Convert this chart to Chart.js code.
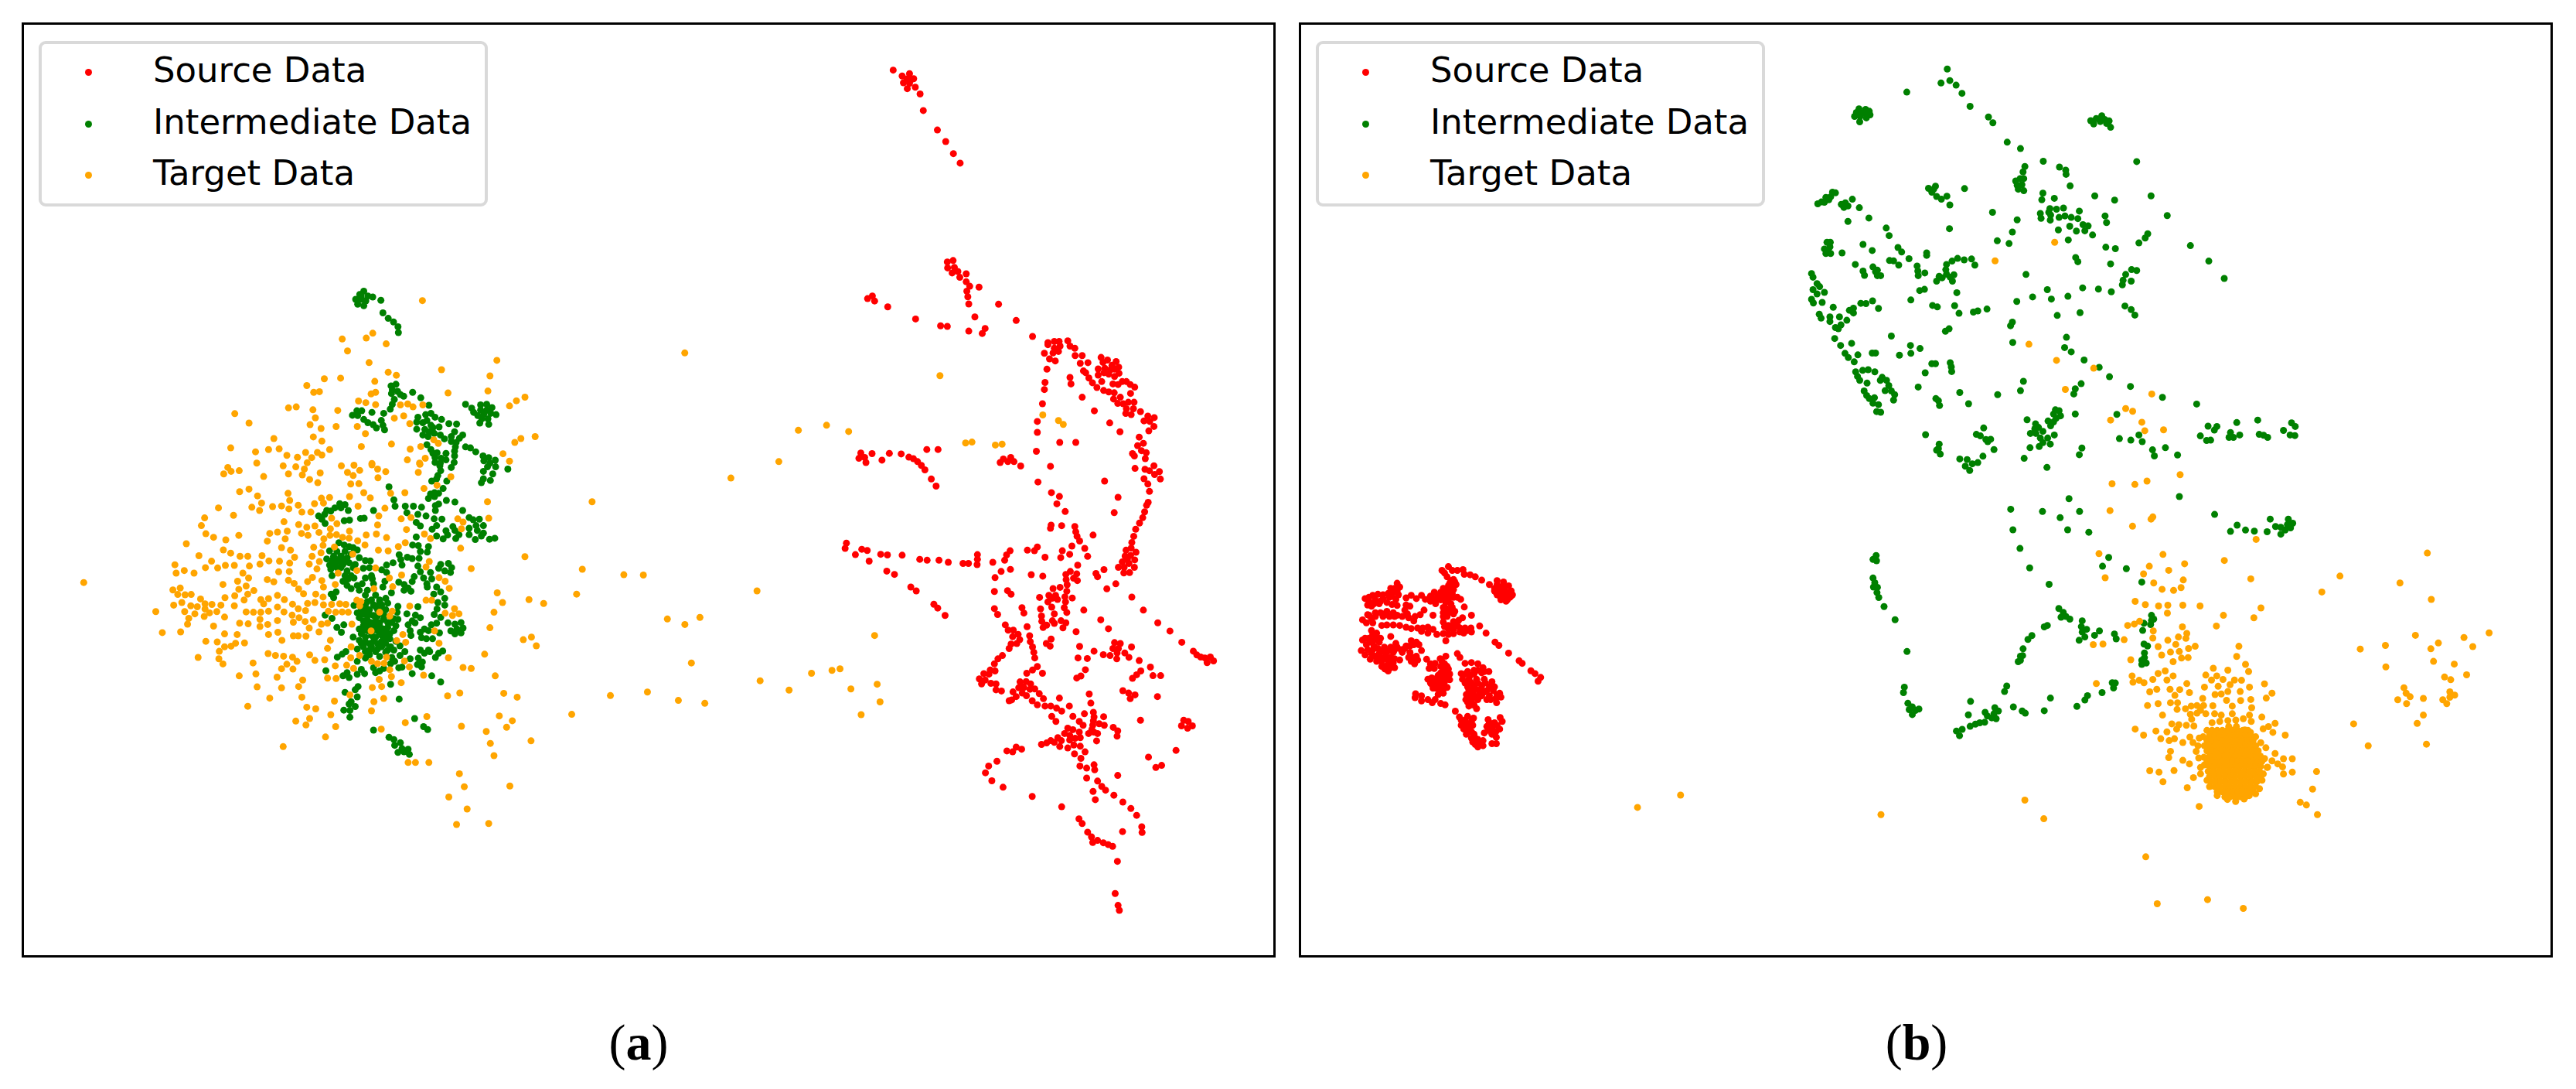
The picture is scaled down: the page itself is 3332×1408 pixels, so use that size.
<!DOCTYPE html>
<html>
<head>
<meta charset="utf-8">
<script src="https://cdn.jsdelivr.net/npm/chart.js@4/dist/chart.umd.js"></script>
<style>
html, body { margin: 0; padding: 0; background: #fff; }
body { width: 3332px; height: 1408px; position: relative; overflow: hidden; }
.frame { position: absolute; border: 3px solid #000; box-sizing: content-box; }
.frame canvas { display: block; }
.legend { position: absolute; top: 53px; width: 573px; height: 206px; border: 4px solid #d9d9d9; border-radius: 9px; background: #fff;
    font-family: "DejaVu Sans"; font-size: 45px; color: #000; }
.legend div { position: absolute; left: 144px; white-space: nowrap; line-height: 50px; }
.legend i { position: absolute; width: 9px; height: 9px; border-radius: 50%; left: 56px; }
.cap { position: absolute; top: 1308px; font-family: "Liberation Serif"; font-size: 66px; line-height: 80px; transform: translateX(-50%); color: #000; }
</style>
</head>
<body>
<script>
const seriesNames = ['Source Data', 'Intermediate Data', 'Target Data']
const seriesColors = ['#ff0000', '#008000', '#ffa500']
const captions = ['a', 'b']

const crop1 = [0, 0, 1.889, 2.376]
const crop2 = [100, 600, 1.889, 2.376]
const crop3 = [1000, 50, 2.4, 2.6]
const crop4 = [1000, 640, 2.4, 2.6]
const crop5 = [1700, 650, 3, 3]
const crop6 = [2250, 50, 2.09, 2.53]
const crop7 = [2350, 650, 1.742, 2.8]
const crop8 = [2820, 840, 3, 3]
const crop0 = [0, 0, 1, 1]

// panel (a)
const aSourceUpper = [[377,95],[405,115],[428,107],[441,124],[420,125],[432,128],[409,138],[428,140],[446,153],[421,158],[461,176],[471,232],[515,298],[541,337],[565,378],[586,410],[546,745],[564,740],[547,765],[568,763],[579,777],[561,782],[585,797],[605,785],[605,812],[616,827],[645,830],[607,844],[610,863],[613,887],[706,888],[632,931],[761,943],[664,970],[655,987],[613,979],[525,961],[546,963],[447,938],[360,897],[297,869],[312,860],[319,877],[812,997],[860,1018],[860,1025],[880,1014],[895,1014],[898,1030],[880,1037],[893,1048],[876,1053],[849,1054],[865,1073],[883,1080],[922,1012],[929,1030],[944,1037],[945,1062],[967,1062],[961,1088],[985,1086],[857,1108],[971,1114],[978,1120],[988,1138],[999,1154],[1013,1170],[929,1136],[932,1158],[851,1153],[849,1177],[1026,1068],[1046,1077],[1073,1082],[1032,1085],[1060,1095],[1081,1101],[1017,1107],[1038,1105],[1055,1110],[1068,1108],[1082,1122],[1017,1128],[1035,1120],[1050,1125],[1068,1133],[1028,1150],[1063,1158],[1079,1160],[1092,1150],[1105,1150],[1117,1160],[1131,1169],[1034,1180],[1050,1185],[1067,1188],[1118,1190],[967,1203],[1086,1203],[1065,1209],[1078,1224],[1095,1225],[1111,1220],[1129,1220],[843,1225],[1005,1249],[1105,1242],[1127,1242],[1149,1252],[1103,1258],[1120,1262],[1172,1267],[1192,1272],[1160,1283],[1178,1285],[827,1285],[1053,1290],[1191,1302],[1175,1317],[827,1322],[1085,1320],[1145,1338],[1158,1359],[1140,1367],[1152,1384],[1167,1391],[1124,1394],[1130,1402],[1164,1411],[824,1386],[897,1356],[947,1356],[482,1380],[517,1380],[276,1392],[311,1394],[365,1393],[402,1395],[270,1410],[288,1407],[292,1424],[342,1416],[426,1406],[440,1411],[453,1421],[465,1434],[476,1449],[496,1480],[511,1504],[711,1424],[721,1412],[735,1421],[744,1407],[754,1421],[775,1436],[868,1437],[1132,1444],[1163,1447],[1177,1452],[1191,1435],[1208,1455],[1193,1465],[1211,1480],[1160,1479],[1172,1497],[829,1490],[1037,1487],[1177,1522],[871,1526],[896,1539],[1079,1542]]
const aSourceLower = [[888,30],[1173,25],[1168,35],[914,56],[1162,57],[1067,60],[1156,77],[1146,95],[870,102],[868,113],[903,104],[944,107],[947,125],[1134,116],[951,140],[1128,140],[959,156],[1001,136],[1122,161],[231,163],[227,181],[279,184],[296,188],[259,202],[338,201],[359,203],[405,204],[302,224],[460,218],[483,221],[520,221],[549,228],[595,232],[612,232],[640,202],[640,218],[639,236],[688,228],[742,189],[731,203],[725,221],[714,259],[743,252],[796,187],[818,189],[827,176],[851,211],[905,189],[935,173],[975,181],[928,201],[900,212],[984,208],[1120,180],[1104,187],[1135,194],[1101,207],[1118,205],[1092,227],[1131,220],[1108,218],[1113,232],[1080,245],[1098,245],[1130,245],[1097,264],[1115,263],[953,238],[1035,253],[1010,266],[1015,277],[930,259],[916,269],[950,267],[940,282],[952,290],[917,287],[357,258],[381,269],[695,280],[808,270],[844,275],[920,304],[898,313],[1072,301],[1044,318],[432,312],[449,325],[693,327],[734,324],[745,336],[876,317],[919,326],[863,340],[884,340],[834,347],[913,345],[936,349],[873,350],[890,354],[860,362],[915,362],[1122,346],[504,370],[516,383],[693,385],[779,382],[785,400],[872,380],[837,386],[911,382],[919,398],[972,390],[1158,390],[539,408],[703,405],[880,403],[840,410],[841,428],[874,426],[880,435],[901,426],[916,433],[907,450],[856,441],[845,449],[1025,423],[1203,433],[727,440],[795,446],[1049,453],[736,458],[752,458],[948,463],[1241,461],[767,472],[750,480],[803,477],[772,490],[870,488],[745,505],[763,503],[805,497],[855,503],[867,512],[1068,500],[1086,503],[1278,499],[739,520],[812,515],[959,513],[1063,520],[1080,520],[1121,515],[1004,529],[1314,529],[718,544],[816,533],[1033,541],[1054,544],[1076,535],[1100,535],[1325,542],[704,555],[819,552],[954,552],[983,554],[1075,555],[1113,550],[1337,549],[1350,552],[1367,549],[1377,562],[1357,568],[1145,561],[693,572],[827,581],[1180,583],[812,593],[680,593],[695,596],[977,592],[1150,596],[660,605],[676,607],[794,604],[843,604],[1137,609],[1188,612],[1212,612],[963,613],[950,620],[1124,621],[646,623],[664,627],[653,640],[682,638],[698,640],[773,633],[792,632],[806,640],[778,648],[769,653],[785,652],[698,660],[715,664],[751,667],[780,671],[804,658],[819,657],[833,673],[1094,663],[1112,671],[989,674],[1132,677],[1202,683],[761,683],[793,680],[846,690],[896,688],[1117,690],[739,697],[747,694],[811,697],[994,705],[827,711],[851,715],[869,715],[887,722],[927,715],[903,732],[1002,736],[872,750],[938,750],[974,741],[1004,752],[1034,751],[885,767],[958,767],[1002,765],[970,780],[1149,763],[1284,763],[1298,767],[1277,782],[1311,782],[1296,790],[1000,780],[1020,775],[1036,780],[1064,787],[922,790],[938,795],[1078,799],[912,808],[958,803],[997,795],[987,808],[1015,808],[1003,803],[928,814],[945,824],[961,822],[891,822],[1076,817],[928,830],[869,832],[856,840],[840,845],[880,838],[902,832],[1012,833],[941,847],[961,851],[897,852],[922,857],[761,854],[778,861],[732,867],[750,870],[943,877],[976,870],[963,892],[1260,865],[1174,888],[701,902],[1004,914],[1215,916],[1197,923],[675,918],[960,918],[981,925],[1006,931],[665,941],[1078,950],[981,959],[685,968],[1015,969],[720,990],[1028,987],[1040,1000],[1001,1004],[811,1021],[1066,1017],[1008,1032],[1094,1040],[903,1056],[1119,1062],[1137,1085],[957,1097],[967,1113],[1153,1124],[1154,1143],[1093,1140],[984,1142],[996,1158],[1000,1177],[1015,1170],[1033,1178],[1048,1184],[1062,1190],[1077,1241],[1070,1350],[1079,1390],[1083,1407]]

const aMiddleUpper = [[885,890],[875,900],[895,905],[907,908],[865,915],[880,915],[890,920],[870,930],[885,935],[878,905],[927,918],[932,957],[945,974],[958,985],[969,1000],[970,1018],[952,1183],[964,1178],[955,1195],[968,1200],[953,1207],[975,1210],[983,1215],[960,1225],[955,1240],[950,1255],[1005,1203],[1025,1220],[1045,1243],[868,1260],[880,1260],[857,1274],[870,1275],[905,1265],[934,1268],[885,1287],[895,1297],[908,1303],[916,1313],[928,1290],[932,1305],[936,1319],[1135,1240],[1150,1252],[1155,1265],[1172,1242],[1187,1240],[1200,1250],[1172,1258],[1187,1258],[1165,1275],[1180,1270],[1197,1268],[1210,1272],[1175,1285],[1190,1285],[1170,1298],[1192,1302],[1037,1272],[1050,1268],[1060,1280],[1018,1280],[1040,1290],[1076,1287],[1015,1295],[1030,1297],[1050,1305],[1094,1300],[1113,1301],[1015,1317],[1035,1318],[1055,1312],[1070,1310],[1030,1335],[1045,1325],[1043,1340],[1058,1330],[1073,1335],[1108,1325],[1128,1335],[1083,1347],[1100,1340],[1120,1345],[1100,1355],[1112,1358],[1040,1365],[1050,1380],[1055,1392],[1065,1390],[1110,1372],[1108,1385],[1135,1372],[1147,1375],[1160,1387],[1178,1400],[1192,1405],[1208,1413],[1180,1415],[1195,1422],[1060,1405],[1075,1407],[1087,1392],[1087,1412],[1108,1400],[1107,1420],[1060,1420],[1073,1422]]
const aMiddleLower = [[883,5],[911,10],[990,22],[1020,8],[1050,15],[1000,8],[885,20],[878,35],[1013,30],[985,57],[1007,50],[990,45],[863,52],[900,52],[875,45],[891,75],[870,88],[860,92],[880,90],[855,106],[870,100],[758,70],[770,110],[773,130],[899,112],[920,117],[880,123],[872,128],[798,130],[818,130],[838,133],[802,150],[829,155],[872,143],[939,143],[849,160],[869,169],[888,170],[955,165],[980,170],[965,172],[825,180],[835,191],[875,190],[864,201],[915,193],[920,205],[898,206],[972,190],[990,190],[955,198],[975,205],[990,213],[875,222],[891,231],[902,219],[922,230],[930,218],[955,218],[970,233],[985,222],[1005,232],[1018,229],[825,225],[816,250],[830,252],[855,255],[835,270],[852,272],[637,122],[650,125],[625,135],[640,135],[605,143],[615,145],[585,160],[600,155],[658,143],[593,170],[601,183],[648,175],[661,173],[688,168],[697,167],[720,143],[635,243],[648,250],[660,255],[670,258],[680,265],[612,268],[630,270],[650,270],[665,278],[622,285],[640,285],[605,293],[618,297],[635,295],[655,290],[685,289],[700,298],[712,299],[612,312],[625,310],[640,305],[660,305],[675,310],[695,322],[710,320],[615,325],[618,345],[640,320],[655,330],[670,320],[650,345],[665,345],[645,362],[658,355],[672,352],[700,352],[715,345],[740,327],[752,335],[752,312],[768,305],[783,280],[787,295],[790,312],[803,288],[815,292],[832,291],[829,315],[835,333],[843,352],[863,355],[820,348],[815,363],[860,335],[880,322],[885,310],[904,307],[912,320],[895,330],[909,335],[655,375],[665,385],[680,375],[692,370],[717,355],[720,370],[748,362],[743,380],[782,365],[795,372],[805,383],[795,390],[812,393],[851,370],[852,380],[875,380],[885,395],[868,402],[895,415],[628,395],[616,402],[622,413],[685,390],[705,390],[700,405],[725,405],[764,398],[715,420],[735,420],[750,415],[700,435],[720,435],[740,435],[755,430],[672,437],[690,450],[710,450],[730,450],[750,450],[780,440],[778,458],[680,460],[700,465],[720,468],[745,465],[770,478],[685,475],[705,482],[725,485],[745,480],[765,490],[780,480],[695,500],[715,500],[735,500],[755,505],[775,500],[685,510],[705,515],[730,515],[750,518],[770,515],[690,525],[670,535],[715,530],[740,530],[760,540],[685,545],[700,550],[720,548],[740,548],[775,548],[695,565],[715,565],[740,565],[762,565],[680,572],[785,562],[700,580],[725,580],[750,582],[770,575],[797,580],[785,592],[765,598],[735,595],[710,590],[772,610],[762,617],[829,441],[878,428],[876,448],[895,436],[802,463],[823,467],[835,475],[869,465],[885,474],[815,485],[805,497],[822,491],[862,497],[875,492],[903,491],[920,495],[935,490],[810,515],[845,510],[855,515],[835,520],[812,530],[882,522],[910,516],[925,510],[940,507],[920,525],[935,522],[838,537],[850,540],[865,540],[835,575],[855,575],[845,585],[890,578],[880,585],[872,598],[858,580],[830,600],[810,602],[840,612],[828,620],[838,627],[601,467],[618,477],[647,497],[630,505],[641,520],[652,580],[643,588],[631,597],[680,610],[700,600],[720,630],[735,640],[745,632],[603,639],[645,655],[655,645],[660,660],[680,650],[698,648],[690,635],[725,645],[782,630],[790,628],[815,648],[863,655],[885,674],[762,681],[682,688],[675,698],[650,706],[680,720],[665,735],[675,750],[660,742],[647,761],[662,762],[662,783],[783,727],[821,787],[843,812],[853,821],[720,823],[758,845],[770,852],[786,862],[772,870],[790,880],[805,882],[780,892],[795,890],[808,898],[690,465],[710,465],[730,470],[760,470],[695,485],[715,490],[735,490],[755,490],[705,500],[725,505],[745,510],[695,515],[715,520],[735,520],[760,525],[700,535],[725,535],[750,535],[710,555],[730,555],[750,555],[690,555],[710,575],[730,572],[755,575],[735,425],[725,440],[705,425],[700,450],[740,455],[625,300],[645,310],[650,300],[630,320],[650,360],[640,285]]

const aTargetUpper = [[1029,919],[832,1038],[891,1035],[907,1020],[940,1053],[845,1075],[898,1111],[1212,1104],[1076,1133],[945,1141],[965,1150],[1195,1152],[828,1159],[788,1161],[912,1169],[745,1182],[1190,1199],[762,1203],[776,1201],[1092,1205],[903,1208],[914,1203],[1281,1218],[1260,1229],[1243,1245],[872,1230],[890,1235],[914,1241],[700,1251],[719,1248],[760,1257],[821,1259],[975,1242],[993,1239],[1006,1248],[1030,1242],[568,1269],[766,1282],[960,1283],[983,1276],[603,1298],[753,1303],[817,1309],[869,1309],[998,1300],[780,1315],[889,1331],[1306,1340],[1271,1346],[1256,1358],[664,1346],[761,1341],[782,1354],[953,1363],[1057,1350],[1068,1361],[879,1371],[1025,1371],[558,1375],[651,1380],[677,1378],[619,1387],[801,1380],[742,1389],[771,1389],[782,1397],[999,1379],[696,1398],[722,1404],[757,1405],[1227,1393],[992,1412],[1036,1407],[1243,1416],[622,1422],[746,1421],[905,1423],[1022,1422]]
const aTargetLower = [[352,30],[362,10],[370,22],[390,20],[450,38],[511,30],[545,33],[550,15],[498,5],[529,8],[589,27],[563,47],[583,57],[641,5],[672,3],[656,25],[670,35],[686,19],[716,2],[730,15],[750,23],[731,42],[830,25],[834,0],[664,61],[684,60],[910,39],[391,85],[414,77],[435,98],[510,90],[696,88],[712,104],[844,75],[762,90],[797,88],[876,65],[445,120],[421,133],[472,131],[494,129],[514,112],[535,127],[512,138],[440,143],[544,148],[566,148],[575,122],[592,105],[612,103],[597,120],[661,100],[682,130],[748,136],[339,135],[376,158],[305,166],[297,190],[500,178],[733,160],[617,167],[630,184],[536,187],[556,195],[576,191],[730,188],[788,169],[812,165],[1000,116],[1257,116],[1003,167],[927,169],[940,179],[936,200],[614,200],[586,211],[661,207],[801,202],[308,215],[327,226],[389,220],[357,234],[465,214],[484,210],[508,207],[543,214],[559,220],[613,220],[629,218],[702,219],[727,216],[752,227],[845,216],[860,230],[503,231],[459,238],[598,231],[644,226],[660,229],[681,237],[699,250],[260,246],[798,243],[781,255],[934,260],[494,258],[516,266],[573,257],[596,251],[624,256],[669,278],[732,266],[756,268],[351,265],[369,275],[591,274],[291,283],[392,285],[411,285],[446,283],[526,288],[569,285],[1092,286],[322,300],[489,300],[463,299],[587,301],[441,309],[514,306],[562,309],[415,315],[356,313],[378,313],[307,320],[337,321],[232,311],[857,301],[849,318],[581,324],[725,321],[960,323],[255,329],[235,337],[279,337],[399,337],[487,333],[513,332],[633,337],[679,329],[1233,325],[1335,342],[1383,343],[789,343],[881,351],[896,362],[413,352],[386,362],[459,357],[475,364],[511,359],[558,363],[570,350],[593,360],[759,352],[350,372],[407,377],[525,369],[626,372],[767,379],[906,384],[8,366],[389,387],[426,391],[536,386],[597,380],[721,385],[227,389],[245,383],[411,402],[239,403],[257,404],[272,403],[548,401],[578,402],[596,411],[1024,398],[355,413],[379,407],[295,417],[402,420],[443,419],[462,416],[484,406],[501,419],[1102,419],[1219,402],[249,428],[323,434],[306,432],[521,433],[576,428],[1037,428],[1138,431],[271,438],[287,441],[229,436],[345,436],[378,438],[450,432],[484,442],[558,431],[597,435],[617,434],[637,432],[652,434],[689,425],[679,421],[686,438],[849,421],[863,421],[809,439],[919,447],[306,448],[535,447],[553,453],[185,456],[256,456],[281,463],[304,471],[317,460],[335,456],[407,457],[425,458],[443,458],[462,455],[500,457],[609,455],[627,458],[643,457],[658,458],[735,458],[766,455],[1016,458],[896,461],[914,468],[930,463],[266,477],[354,473],[520,467],[537,475],[572,481],[441,480],[1442,479],[1522,474],[760,470],[263,495],[391,492],[412,494],[460,496],[484,484],[523,489],[552,487],[592,495],[607,492],[441,502],[667,495],[1485,496],[327,501],[562,507],[1006,506],[201,521],[246,519],[354,525],[385,527],[462,527],[485,520],[586,519],[714,516],[870,516],[523,531],[535,531],[554,532],[792,527],[1108,535],[1088,543],[308,548],[336,550],[495,545],[614,545],[777,546],[799,551],[881,554],[403,553],[381,554],[370,563],[354,565],[1120,562],[665,565],[607,570],[341,579],[461,586],[479,592],[499,594],[563,590],[521,597],[993,588],[289,598],[340,602],[532,610],[576,607],[600,605],[686,592],[664,599],[752,597],[904,599],[796,609],[424,615],[350,618],[1501,615],[507,619],[715,610],[730,617],[746,616],[626,624],[654,622],[808,627],[940,629],[960,632],[494,633],[522,634],[671,632],[760,636],[431,649],[390,655],[483,659],[1019,655],[843,653],[764,657],[546,668],[607,662],[628,663],[734,666],[788,676],[434,689],[494,692],[536,688],[717,691],[740,688],[544,721],[465,724],[662,714],[902,717],[932,708],[1040,709],[1073,721],[1302,716],[1393,705],[745,725],[721,735],[624,733],[411,749],[1469,731],[1534,740],[556,752],[578,757],[715,763],[615,775],[1207,774],[851,781],[1029,779],[1061,794],[529,795],[563,787],[798,800],[554,807],[627,812],[936,811],[1047,814],[739,820],[997,827],[602,844],[1107,856],[1007,864],[498,874],[1016,902],[805,923],[823,923],[856,923],[931,958],[943,998],[1055,996],[905,1030],[950,1067],[1003,1112],[924,1115]]
const aTargetFar = [[20,1421],[81,1315],[169,1298],[238,1319],[523,1130],[844,1263],[893,1282],[908,1295],[603,1358],[623,1355],[696,1365],[717,1362]]
const aTargetFar2 = [[319,476],[122,604],[186,594],[211,589],[52,661],[245,657],[327,641],[336,701],[277,744]]
const aTargetGap = [[886,455],[946,618],[980,765],[984,882]]

// panel (b)
const bSource = [[485,265],[510,250],[495,275],[525,265],[545,265],[567,262],[572,280],[595,282],[615,290],[640,303],[670,320],[700,305],[725,310],[745,325],[690,335],[710,330],[730,330],[755,345],[695,350],[715,350],[735,350],[760,360],[710,365],[730,370],[750,370],[735,385],[720,340],[745,350],[505,290],[530,300],[515,315],[540,320],[490,335],[510,340],[530,340],[455,350],[480,350],[500,355],[525,355],[470,365],[545,370],[558,378],[450,375],[480,380],[510,375],[405,362],[365,362],[385,375],[345,372],[420,378],[440,385],[460,395],[500,390],[520,395],[572,408],[600,440],[310,315],[285,335],[320,330],[295,350],[315,360],[255,360],[235,358],[215,362],[185,375],[200,385],[225,380],[245,385],[270,390],[305,378],[290,398],[310,402],[345,400],[360,405],[210,405],[340,420],[350,435],[415,420],[400,438],[380,445],[450,440],[490,430],[510,430],[530,435],[490,410],[525,410],[355,450],[375,462],[330,445],[295,430],[270,425],[245,430],[195,438],[225,445],[210,455],[175,458],[190,470],[215,470],[255,445],[280,445],[310,440],[250,480],[270,478],[295,478],[320,480],[345,487],[365,492],[390,490],[410,490],[430,487],[450,495],[405,503],[430,510],[465,515],[490,512],[510,515],[530,512],[500,540],[490,467],[530,465],[550,460],[565,450],[495,485],[520,490],[545,480],[575,490],[598,490],[570,510],[600,505],[632,482],[657,510],[692,545],[707,558],[745,588],[786,618],[798,628],[832,657],[848,668],[870,683],[860,698],[210,500],[225,520],[245,530],[285,523],[185,530],[175,537],[205,545],[240,545],[190,555],[305,550],[365,540],[385,545],[360,560],[395,555],[170,578],[185,595],[210,590],[260,565],[285,565],[310,565],[340,570],[330,585],[240,590],[265,590],[295,585],[360,585],[405,578],[205,612],[230,620],[260,610],[285,605],[320,615],[355,605],[385,600],[365,620],[378,630],[390,615],[250,640],[275,630],[300,645],[275,658],[262,650],[425,612],[440,630],[458,628],[435,648],[455,648],[500,600],[478,610],[495,630],[510,650],[490,655],[515,670],[470,675],[445,685],[490,685],[515,692],[440,705],[465,705],[490,715],[505,722],[450,725],[475,735],[490,745],[382,747],[380,762],[405,755],[405,775],[430,770],[447,782],[458,770],[480,785],[497,790],[537,815],[553,838],[545,590],[555,605],[575,628],[600,625],[625,630],[645,645],[668,660],[585,660],[560,668],[610,670],[640,665],[565,690],[590,690],[620,690],[650,690],[680,700],[585,720],[610,715],[640,715],[670,720],[690,720],[650,740],[710,745],[580,750],[605,745],[630,750],[670,755],[695,765],[715,760],[578,770],[600,775],[625,770],[660,770],[698,782],[590,795],[620,805],[605,790],[585,835],[608,842],[560,850],[580,865],[605,870],[560,870],[570,885],[590,890],[580,905],[610,905],[600,920],[625,925],[605,935],[645,930],[645,950],[625,955],[665,848],[690,860],[712,840],[720,855],[660,875],[680,880],[710,885],[650,900],[680,905],[697,917],[680,942],[697,942],[700,320],[705,340],[725,360],[745,360],[700,360],[715,380],[740,380],[755,365],[690,345],[485,620],[505,640],[480,640],[495,660],[480,665],[500,675],[455,690],[470,690],[455,710],[475,715],[460,725],[430,690],[445,710],[495,700],[480,700],[490,730],[470,750],[575,670],[595,675],[625,655],[650,660],[610,655],[575,705],[600,705],[625,705],[655,705],[600,730],[620,730],[640,730],[660,735],[685,735],[595,760],[615,760],[640,755],[675,770],[700,750],[585,780],[610,790],[590,735],[600,855],[575,850],[590,875],[570,870],[600,895],[615,920],[630,940],[615,945],[670,860],[680,900],[665,890],[700,870],[695,895],[300,335],[290,365],[310,345],[200,370],[220,395],[240,395],[195,400],[255,375],[280,370],[275,355],[225,430],[260,435],[300,445],[200,440],[200,530],[215,540],[230,535],[220,560],[195,575],[215,575],[235,570],[250,580],[275,580],[300,575],[325,575],[225,600],[245,605],[270,605],[300,610],[250,620],[275,615],[295,625],[265,640],[285,645],[370,605],[345,560],[375,555],[230,510],[215,515],[480,365],[500,370],[530,370],[495,345],[510,360],[520,330],[510,325],[535,310],[520,305],[490,360],[465,380],[440,365],[520,420],[505,415],[535,425],[490,445],[505,445],[540,470],[510,480],[530,480],[555,490],[585,500],[555,505],[530,495],[510,495]]

const bMiddleUpper = [[562,89],[545,135],[569,127],[586,142],[602,169],[452,165],[624,212],[674,247],[686,266],[725,330],[761,351],[322,220],[340,222],[350,228],[315,232],[330,235],[345,238],[310,245],[325,245],[352,240],[342,250],[324,263],[952,259],[967,252],[982,243],[990,255],[1002,260],[960,270],[978,262],[995,268],[1006,281],[823,393],[1077,394],[867,412],[884,422],[885,436],[773,410],[768,428],[748,458],[760,450],[770,450],[752,472],[765,470],[755,485],[770,490],[896,474],[511,482],[530,475],[520,495],[525,485],[533,509],[546,518],[561,508],[569,537],[609,483],[210,533],[220,527],[232,512],[240,520],[250,495],[258,497],[245,510],[228,528],[274,535],[285,530],[281,545],[292,540],[304,518],[323,546],[349,580],[292,591],[822,498],[819,520],[853,515],[963,507],[1017,521],[1116,507],[685,561],[841,549],[859,551],[878,547],[921,557],[838,561],[815,565],[843,570],[1160,572],[817,581],[842,587],[866,578],[882,573],[899,578],[917,582],[991,573],[995,595],[752,586],[895,607],[931,602],[945,606],[864,619],[913,623],[936,622],[957,636],[739,626],[396,613],[404,638],[568,615],[1107,632],[1100,646],[1083,662],[698,655],[730,664],[891,652],[235,660],[244,660],[333,667],[1223,671],[993,676],[1019,681],[243,675],[228,682],[358,687],[245,697],[276,695],[232,697],[238,685],[428,677],[438,692],[506,695],[506,703],[458,714],[590,713],[608,718],[628,715],[575,722],[405,720],[416,721],[430,735],[560,733],[637,735],[911,710],[917,724],[1273,722],[312,733],[1006,731],[480,738],[360,741],[333,755],[482,755],[501,761],[558,750],[367,757],[372,752],[483,770],[580,767],[776,766],[1063,750],[1077,753],[193,763],[197,775],[337,769],[372,770],[381,770],[560,765],[540,772],[548,777],[570,775],[1047,766],[1315,779],[533,788],[576,788],[1040,785],[1062,788],[1038,800],[208,796],[215,806],[487,819],[500,815],[834,816],[930,810],[973,814],[1008,823],[197,816],[228,825],[208,830],[588,826],[794,840],[890,838],[845,847],[193,848],[198,860],[222,858],[463,850],[359,853],[327,861],[341,862],[751,855],[522,868],[535,873],[582,869],[375,878],[252,874],[1045,870],[1062,882],[670,880],[296,884],[307,877],[307,893],[633,890],[645,886],[594,894],[923,892],[861,901],[1072,900],[214,897],[219,910],[243,906],[269,906],[243,921],[289,917],[739,923],[734,935],[258,941],[273,932],[266,945],[567,945],[557,953],[410,969],[886,973],[256,977],[302,993],[272,1000],[740,990],[462,1000],[488,1010],[881,1007],[899,1021],[284,1026],[319,1031],[358,1025],[367,1025],[432,1032],[463,1026],[293,1040],[934,1048],[309,1054],[520,1060],[530,1060],[570,1057],[573,1071],[975,1072],[332,1082],[347,1080],[365,1087],[313,1087],[574,1086],[502,1090],[1003,1103],[318,1102],[385,1105],[324,1115],[380,1115],[397,1115],[344,1124],[769,1118],[926,1126],[403,1132],[483,1137],[1060,1135],[393,1149],[336,1150],[910,1143],[761,1149],[906,1160],[410,1150],[343,1165],[596,1155],[699,1162],[419,1162],[350,1175],[364,1172],[531,1175],[1147,1171],[416,1180],[360,1190],[538,1182],[620,1192],[375,1195],[1240,1193],[541,1198],[370,1218],[381,1220],[856,1212],[866,1215],[851,1226],[870,1232],[910,1226],[1023,1227],[858,1240],[779,1245],[836,1249],[851,1252],[1406,1246],[802,1258],[843,1265],[810,1270],[1349,1254],[1498,1255],[1508,1267],[1271,1266],[1295,1267],[1288,1279],[661,1272],[800,1275],[822,1283],[788,1290],[803,1290],[1476,1280],[1332,1287],[641,1293],[652,1298],[853,1295],[503,1294],[1030,1307],[1083,1295],[1410,1293],[1422,1296],[1357,1295],[1494,1295],[1507,1297],[1250,1298],[815,1305],[1328,1303],[1340,1303],[1433,1303],[667,1310],[680,1309],[835,1305],[1061,1312],[1267,1313],[1278,1312],[1092,1317],[672,1317],[822,1320],[842,1325],[540,1325],[812,1333],[787,1337],[928,1338],[1155,1337],[538,1340],[689,1343],[533,1345],[1120,1344],[543,1358],[921,1360],[1188,1361],[1125,1364],[659,1365],[771,1372],[596,1374],[616,1376],[645,1386],[630,1390],[611,1398],[833,1402],[623,1412],[1193,1498],[893,1505]]
const bMiddleLower = [[438,24],[510,32],[550,55],[594,32],[443,99],[567,99],[615,108],[459,167],[481,238],[525,298],[900,43],[1026,60],[951,82],[936,105],[970,100],[990,104],[1019,106],[1067,60],[1038,87],[1077,75],[1050,90],[1065,80],[1060,100],[1072,92],[1050,115],[660,200],[646,232],[700,241],[735,290],[133,193],[126,207],[134,212],[126,275],[130,292],[127,308],[136,309],[135,328],[139,346],[151,379],[176,427],[203,543],[197,673],[195,693],[205,732],[208,755],[215,745],[222,758],[230,753],[215,773],[547,386],[557,400],[552,418],[563,415],[572,425],[600,431],[598,452],[610,462],[600,472],[606,490],[593,502],[639,468],[628,484],[521,448],[514,453],[486,485],[477,499],[466,533],[460,560],[465,558],[455,580],[460,575],[673,479],[677,497],[757,411],[762,425],[757,430],[740,440],[755,445],[737,466],[740,516],[748,523],[741,548],[741,565],[735,590],[745,585],[735,575],[668,657],[675,658],[671,676],[645,693],[612,704],[606,720],[588,743],[528,713],[514,759],[464,760],[471,768],[444,745],[429,669],[424,689],[347,725],[342,774],[402,748],[410,760],[380,765],[385,778],[405,788],[395,785],[400,770],[379,801],[368,803],[358,808],[346,816],[328,827],[315,833],[322,850]]

const bTargetUpper = [[854,660],[692,721],[784,996],[859,1049],[960,1075],[883,1145],[1118,1160],[1047,1208],[1066,1217],[1006,1246],[1091,1253],[1099,1281],[1150,1278],[1195,1426],[1010,1456],[1072,1458],[1105,1447]]
const bTargetLower = [[663,29],[760,52],[756,60],[714,86],[994,134],[638,186],[783,189],[1382,184],[922,211],[832,223],[752,232],[796,247],[739,260],[1184,268],[982,278],[652,274],[829,282],[762,293],[1320,293],[824,310],[781,316],[807,320],[1143,326],[1391,353],[720,360],[743,372],[773,377],[794,374],[828,374],[867,377],[1005,384],[793,403],[920,411],[989,420],[730,433],[718,443],[703,448],[904,450],[827,453],[761,468],[837,477],[818,490],[760,494],[835,495],[794,502],[695,500],[1355,484],[1465,492],[1522,475],[812,517],[625,518],[647,516],[772,525],[856,524],[955,524],[1407,512],[1287,521],[1485,525],[841,532],[1230,534],[1390,533],[820,543],[800,545],[780,556],[950,561],[825,567],[840,565],[710,573],[806,580],[970,590],[1396,579],[1443,589],[1288,599],[788,614],[897,604],[930,611],[977,616],[772,623],[1471,628],[713,632],[806,632],[880,629],[905,632],[1421,636],[729,648],[760,645],[792,647],[893,647],[919,645],[945,647],[961,648],[1435,646],[632,660],[715,655],[740,657],[837,660],[935,664],[1013,661],[908,670],[877,673],[979,673],[1329,675],[769,681],[799,681],[821,682],[958,689],[930,689],[753,690],[843,693],[1030,695],[1334,695],[1433,690],[901,700],[915,698],[810,703],[1343,708],[1444,702],[1433,710],[1373,714],[873,714],[1017,713],[927,721],[959,722],[982,718],[1315,719],[1417,719],[800,730],[816,730],[772,733],[1335,733],[1426,733],[748,740],[896,741],[940,742],[984,748],[834,752],[815,754],[847,742],[860,740],[875,740],[782,775],[1373,775],[845,772],[848,790],[868,757],[880,770],[860,768],[900,770],[915,775],[940,770],[1007,782],[979,775],[965,788],[930,795],[948,793],[983,798],[1215,807],[1359,805],[803,807],[819,810],[836,812],[853,815],[1037,805],[1022,817],[1010,825],[720,826],[814,826],[767,833],[792,836],[1032,838],[739,848],[1060,848],[778,861],[809,861],[797,868],[844,855],[828,875],[851,875],[1380,881],[1248,887],[800,907],[796,930],[828,940],[843,953],[753,978],[774,983],[808,977],[852,1003],[783,1018],[838,1040],[1037,915],[1056,934],[1076,934],[1030,942],[1043,953],[1054,964],[1020,965],[1056,990],[1076,983],[1131,981],[1122,1045],[1094,1093],[1108,1103],[1133,1138],[865,1108],[470,1085],[144,1138],[513,1153],[744,1292],[884,1448],[770,1463],[965,1480]]
const bTargetGap = [[2116,1047],[2172,1031]]
const bTargetBlob = [[120,540],[150,575],[190,590],[222,598],[255,588],[275,575],[300,568],[315,548],[325,515],[330,490],[345,465],[335,430],[340,388],[320,368],[300,345],[280,328],[258,318],[225,305],[195,305],[160,285],[130,290],[110,320],[95,345],[80,350],[75,380],[68,402],[78,428],[98,425],[85,465],[100,455],[110,515],[85,490],[130,320],[150,320],[170,320],[190,320],[210,320],[230,320],[250,320],[270,320],[120,340],[140,340],[160,340],[180,340],[200,340],[220,340],[240,340],[260,340],[280,340],[110,360],[130,360],[150,360],[170,360],[190,360],[210,360],[230,360],[250,360],[270,360],[290,360],[100,380],[120,380],[140,380],[160,380],[180,380],[200,380],[220,380],[240,380],[260,380],[280,380],[300,380],[110,400],[130,400],[150,400],[170,400],[190,400],[210,400],[230,400],[250,400],[270,400],[290,400],[310,400],[120,420],[140,420],[160,420],[180,420],[200,420],[220,420],[240,420],[260,420],[280,420],[300,420],[318,420],[110,440],[130,440],[150,440],[170,440],[190,440],[210,440],[230,440],[250,440],[270,440],[290,440],[310,440],[325,440],[120,460],[140,460],[160,460],[180,460],[200,460],[220,460],[240,460],[260,460],[280,460],[300,460],[320,460],[115,480],[135,480],[155,480],[175,480],[195,480],[215,480],[235,480],[255,480],[275,480],[295,480],[315,480],[120,500],[140,500],[160,500],[180,500],[200,500],[220,500],[240,500],[260,500],[280,500],[300,500],[320,500],[125,520],[145,520],[165,520],[185,520],[205,520],[225,520],[245,520],[265,520],[285,520],[305,520],[140,540],[160,540],[180,540],[200,540],[220,540],[240,540],[260,540],[280,540],[300,540],[150,560],[170,560],[190,560],[210,560],[230,560],[250,560],[270,560],[290,560],[180,580],[200,580],[220,580],[240,580],[260,580]]

function toPoints(list, c) {
    return list.map(p => ({ x: c[0] + p[0] / c[2], y: c[1] + p[1] / c[3] }))
}

const panelA = [
    [...toPoints(aSourceUpper, crop3), ...toPoints(aSourceLower, crop4)],
    [...toPoints(aMiddleUpper, crop1), ...toPoints(aMiddleLower, crop2)],
    [...toPoints(aTargetUpper, crop1), ...toPoints(aTargetLower, crop2), ...toPoints(aTargetFar, crop3), ...toPoints(aTargetFar2, crop4), ...toPoints(aTargetGap, crop0)]
]
const panelB = [
    toPoints(bSource, crop5),
    [...toPoints(bMiddleUpper, crop6), ...toPoints(bMiddleLower, crop7)],
    [...toPoints(bTargetUpper, crop6), ...toPoints(bTargetLower, crop7), ...toPoints(bTargetBlob, crop8), ...toPoints(bTargetGap, crop0)]
]

function addPanel(series, left, right, top, bottom, capX, capLetter) {
    let frame = document.createElement('div')
    frame.className = 'frame'
    frame.style.cssText = `left:${left}px;top:${top}px;width:${right - left}px;height:${bottom - top}px`
    let canvas = document.createElement('canvas')
    canvas.width = right - left
    canvas.height = bottom - top
    frame.appendChild(canvas)
    document.body.appendChild(frame)

    new Chart(canvas, {
        type: 'scatter',
        data: {
            datasets: series.map((pts, i) => ({
                label: seriesNames[i],
                data: pts,
                backgroundColor: seriesColors[i],
                borderWidth: 0,
                pointRadius: 4.5,
                order: 3 - i
            }))
        },
        options: {
            responsive: false,
            animation: false,
            layout: { padding: 0 },
            plugins: { legend: { display: false }, tooltip: { enabled: false } },
            scales: {
                x: { type: 'linear', display: false, min: left + 3, max: right + 3 },
                y: { type: 'linear', display: false, reverse: true, min: top + 3, max: bottom + 3 }
            }
        }
    })

    // legend sits inside the axes, text stays real text
    let legend = document.createElement('div')
    legend.className = 'legend'
    legend.style.left = (left + 22) + 'px'
    seriesNames.forEach((name, i) => {
        let rowTop = 9 + i * 66.5
        legend.innerHTML += `<i style="background:${seriesColors[i]};top:${rowTop + 23}px"></i><div style="top:${rowTop}px">${name}</div>`
    })
    document.body.appendChild(legend)

    let cap = document.createElement('div')
    cap.className = 'cap'
    cap.style.left = capX + 'px'
    cap.innerHTML = `(<b>${capLetter}</b>)`
    document.body.appendChild(cap)
}

addPanel(panelA, 28, 1644, 29, 1232, 826, captions[0])
addPanel(panelB, 1680, 3296, 29, 1232, 2479, captions[1])
</script>
</body>
</html>
